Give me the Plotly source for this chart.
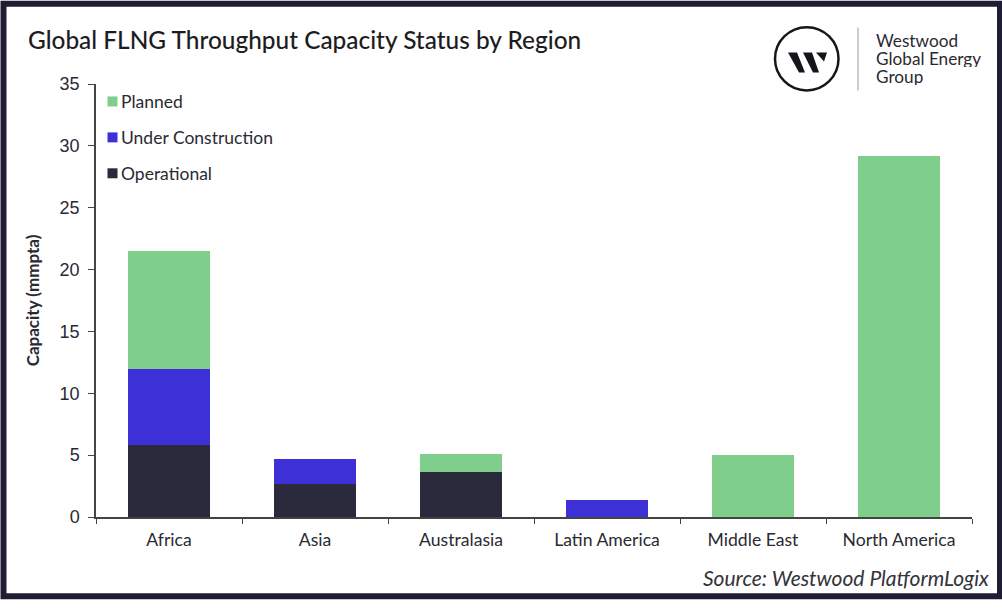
import plotly.graph_objects as go

categories = ["Africa", "Asia", "Australasia", "Latin America", "Middle East", "North America"]
operational = [5.8, 2.7, 3.6, 0, 0, 0]
under_construction = [6.2, 2.0, 0, 1.4, 0, 0]
planned = [9.5, 0, 1.5, 0, 5.0, 29.2]
y_ticks = [0, 5, 10, 15, 20, 25, 30, 35]
series_names = ["Operational", "Under Construction", "Planned"]
series_colors = ["#2b2a3c", "#3d30d6", "#7fce8b"]

W, H = 1002, 610
L, R, T, B = 96, 972, 83.5, 517.5
px = lambda x: (x - L) / (R - L)
py = lambda y: (B - y) / (B - T)

FONT = "Lato, 'Open Sans', sans-serif"
INK = "#2a2a33"

fig = go.Figure()
for name, vals, col in zip(series_names, [operational, under_construction, planned], series_colors):
    fig.add_bar(x=categories, y=vals, name=name, marker=dict(color=col, line=dict(width=0)))


def path(points):
    return "M" + " L".join(f"{px(a):.5f},{py(b):.5f}" for a, b in points) + " Z"


shapes = [
    dict(type="rect", xref="paper", yref="paper", layer="above",
         x0=px(3.5), x1=px(1000), y0=py(3), y1=py(597),
         line=dict(color="#1f1d33", width=6), fillcolor="rgba(0,0,0,0)"),
    dict(type="circle", xref="paper", yref="paper",
         x0=px(775), x1=px(838.5), y0=py(26.5), y1=py(90),
         line=dict(color="#15151c", width=2.5)),
    dict(type="line", xref="paper", yref="paper",
         x0=px(858), x1=px(858), y0=py(27), y1=py(90),
         line=dict(color="#9a9a9a", width=1)),
]
for pts in [[(788, 52), (797, 52), (805, 72), (799, 72)],
            [(803, 52), (812, 52), (819, 72), (813, 72)],
            [(816, 52), (827, 52), (824, 61)]]:
    shapes.append(dict(type="path", xref="paper", yref="paper", path=path(pts),
                       fillcolor="#15151c", line=dict(width=0)))

annotations = [
    dict(text="Global FLNG Throughput Capacity Status by Region", x=px(26), y=py(39),
         xanchor="left", yanchor="middle", font=dict(size=24.4, weight=500, color="#1c1c22", family=FONT)),
    dict(text="<i>Source: Westwood PlatformLogix</i>", x=px(990.5), y=py(578),
         xanchor="right", yanchor="middle", font=dict(size=21, color="#33333a", family=FONT)),
]
for line, yy in zip(["Westwood", "Global Energy", "Group"], [39.5, 57.5, 75.5]):
    annotations.append(dict(text=line, x=px(874), y=py(yy), xanchor="left", yanchor="middle", height=17,
                            font=dict(size=17.2, color="#2a2a30", family=FONT)))

# legend, drawn to the reference's tight swatch-to-label spacing
for name, col, yy in zip(series_names, series_colors, [173, 137, 101]):
    shapes.append(dict(type="rect", xref="paper", yref="paper", x0=px(107.5), x1=px(117.5),
                       y0=py(yy - 5), y1=py(yy + 5), fillcolor=col, line=dict(width=0)))
    annotations.append(dict(text=name, x=px(119), y=py(yy), xanchor="left", yanchor="middle",
                            font=dict(size=17.5, color=INK, family=FONT)))

for a in annotations:
    a.update(xref="paper", yref="paper", showarrow=False)

fig.update_layout(
    width=W, height=H, barmode="stack", bargap=0.44, showlegend=False,
    margin=dict(l=L, r=W - R, t=T, b=H - B, autoexpand=False),
    paper_bgcolor="white", plot_bgcolor="white",
    font=dict(family=FONT, color=INK, size=16),
    shapes=shapes, annotations=annotations,
    xaxis=dict(type="category", categoryorder="array", categoryarray=categories, tickson="boundaries",
               ticks="outside", ticklen=5, tickcolor="#444", showline=True, linecolor="#444", linewidth=1.5,
               showgrid=False, zeroline=False, ticklabelstandoff=6,
               tickfont=dict(size=17.6, family=FONT, color=INK)),
    yaxis=dict(range=[0, 35], tickvals=y_ticks, ticks="outside", ticklen=6, tickcolor="#444",
               showline=True, linecolor="#444", linewidth=1.5, showgrid=False, zeroline=False,
               ticklabelstandoff=5, tickfont=dict(size=18, family="'Liberation Sans', Arial, sans-serif", color=INK),
               title=dict(text="<b>Capacity (mmpta)</b>", standoff=16, font=dict(size=17, family=FONT, color=INK))),
)
fig.write_html("out.html", config=dict(displayModeBar=False),
               post_script="document.body.style.margin='0';")
